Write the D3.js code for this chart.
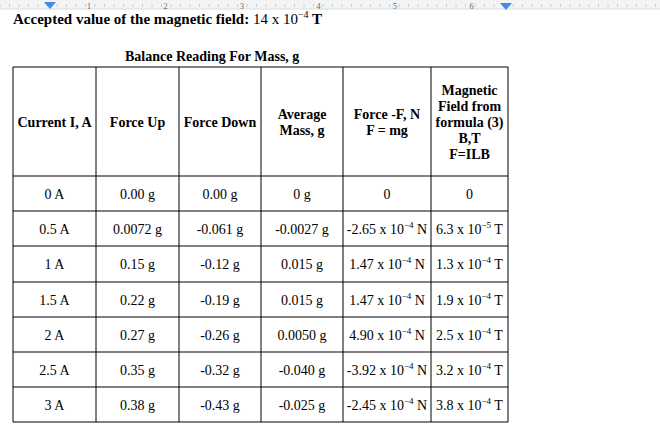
<!DOCTYPE html>
<html><head><meta charset="utf-8">
<script src="https://cdn.jsdelivr.net/npm/d3@7"></script>
<style>body{margin:0;background:#fff}text{font-family:"Liberation Serif","Times New Roman",serif}</style>
</head><body><svg></svg>
<script>
const w = 660, h = 433;
const headers = [['Current I, A'], ['Force Up'], ['Force Down'], ['Average', 'Mass, g'], ['Force -F, N', 'F = mg'], ['Magnetic', 'Field from', 'formula (3)', 'B,T', 'F=ILB']];
const currents = ['0 A', '0.5 A', '1 A', '1.5 A', '2 A', '2.5 A', '3 A'];
const forceUp = ['0.00 g', '0.0072 g', '0.15 g', '0.22 g', '0.27 g', '0.35 g', '0.38 g'];
const forceDown = ['0.00 g', '-0.061 g', '-0.12 g', '-0.19 g', '-0.26 g', '-0.32 g', '-0.43 g'];
const avgMass = ['0 g', '-0.0027 g', '0.015 g', '0.015 g', '0.0050 g', '-0.040 g', '-0.025 g'];
// [mantissa, exponent, unit]
const force = [['0'], ['-2.65', '-4', 'N'], ['1.47', '-4', 'N'], ['1.47', '-4', 'N'], ['4.90', '-4', 'N'], ['-3.92', '-4', 'N'], ['-2.45', '-4', 'N']];
const field = [['0'], ['6.3', '-5', 'T'], ['1.3', '-4', 'T'], ['1.9', '-4', 'T'], ['2.5', '-4', 'T'], ['3.2', '-4', 'T'], ['3.8', '-4', 'T']];
const colEdges = [13, 96, 179, 261, 343, 431, 508];
const rowEdges = [67, 176, 211, 246, 282, 317, 352, 387, 422];

const svg = d3.select('svg').attr('width', w).attr('height', h);

// ruler strip
svg.append('rect').attr('width', w).attr('height', 9).attr('fill', '#f1f3f4');
svg.append('line').attr('x1', 0).attr('x2', w).attr('y1', 9).attr('y2', 9).attr('stroke', '#dadce0');
const ticks = d3.range(0, 660, 9.5);
svg.selectAll('.tk').data(ticks).enter().append('line')
	.attr('x1', (d) => d).attr('x2', (d) => d).attr('y1', 4).attr('y2', 7).attr('stroke', '#ccc');
[1, 2, 3, 4, 5, 6].forEach((n, i) => {
	svg.append('text').attr('x', 89 + i * 76.5).attr('y', 8.5).attr('font-size', 8).attr('fill', '#666').attr('text-anchor', 'middle').text(n);
});
svg.append('path').attr('d', 'M44,2 L56,2 L50,9 Z').attr('fill', '#4a86e8');
svg.append('path').attr('d', 'M500,3 L512,3 L506,10 Z').attr('fill', '#4a86e8');

// title
const t = svg.append('text').attr('x', 13).attr('y', 24).attr('font-size', 15);
t.append('tspan').attr('font-weight', 'bold').text('Accepted value of the magnetic field: ');
t.append('tspan').text('14 x 10');
t.append('tspan').attr('dy', -6).attr('font-size', 10).text('−4');
t.append('tspan').attr('dy', 6).attr('font-weight', 'bold').text(' T');

svg.append('text').attr('x', 125).attr('y', 61).attr('font-size', 14).attr('font-weight', 'bold').text('Balance Reading For Mass, g');

// grid
const g = svg.append('g').attr('stroke', '#000').attr('stroke-width', 1);
colEdges.forEach((x) => g.append('line').attr('x1', x).attr('x2', x).attr('y1', rowEdges[0]).attr('y2', rowEdges[rowEdges.length - 1]));
rowEdges.forEach((y) => g.append('line').attr('x1', colEdges[0]).attr('x2', colEdges[6]).attr('y1', y).attr('y2', y));

const cx = (i) => (colEdges[i] + colEdges[i + 1]) / 2;
const cy = (r) => (rowEdges[r] + rowEdges[r + 1]) / 2;

headers.forEach((lines, i) => {
	const lh = 16;
	const y0 = cy(0) - ((lines.length - 1) * lh) / 2 + 5;
	lines.forEach((l, j) => {
		svg.append('text').attr('x', cx(i)).attr('y', y0 + j * lh).attr('text-anchor', 'middle')
			.attr('font-size', 14).attr('font-weight', 'bold').text(l);
	});
});

const plain = [currents, forceUp, forceDown, avgMass];
plain.forEach((arr, i) => {
	svg.selectAll(null).data(arr).enter().append('text')
		.attr('x', cx(i)).attr('y', (d, r) => cy(r + 1) + 5).attr('text-anchor', 'middle')
		.attr('font-size', 14).text((d) => d);
});

[force, field].forEach((arr, k) => {
	const i = 4 + k;
	arr.forEach((d, r) => {
		const tx = svg.append('text').attr('x', cx(i)).attr('y', cy(r + 1) + 5).attr('text-anchor', 'middle').attr('font-size', 14);
		if (d.length === 1) { tx.text(d[0]); return; }
		tx.append('tspan').text(d[0] + ' x 10');
		tx.append('tspan').attr('dy', -6).attr('font-size', 9).text(d[1].replace('-', '−'));
		tx.append('tspan').attr('dy', 6).text(' ' + d[2]);
	});
});
</script></body></html>
